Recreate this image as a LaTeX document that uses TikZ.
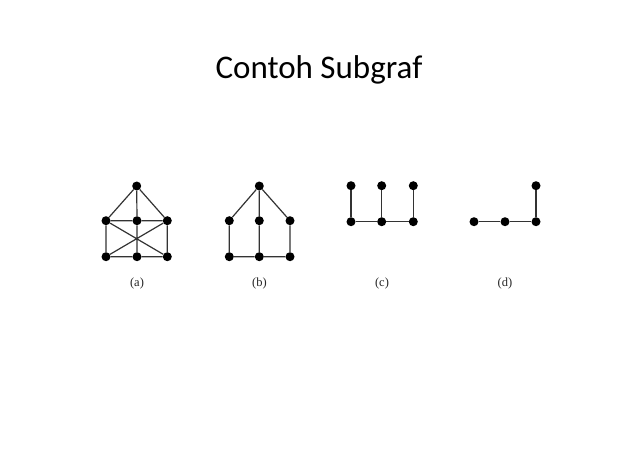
\documentclass[tikz,border=0pt]{standalone}
\usepackage{fontspec}
\setmainfont{Liberation Serif}
\newfontfamily\titlefont{Carlito}
\begin{document}
\begin{tikzpicture}[x=1pt,y=-1pt]
\tikzset{
  vtx/.style={circle,fill=black,inner sep=0pt,minimum size=9pt},
  edge/.style={line width=1.2pt,draw=black!80},
  lbl/.style={font=\fontsize{12.5}{14}\selectfont,text=black!85}
}
\useasboundingbox (0,0) rectangle (638,451);
\node[font=\titlefont\fontsize{33}{38}\selectfont] (title) at (319,70) {Contoh Subgraf};

% (a)
\node[vtx] (a1) at (136.7,186) {};
\node[vtx] (a2) at (106,220.7) {};
\node[vtx] (a3) at (137,220.7) {};
\node[vtx] (a4) at (167.3,220.7) {};
\node[vtx] (a5) at (106,256.7) {};
\node[vtx] (a6) at (137,256.7) {};
\node[vtx] (a7) at (167.3,256.7) {};
\draw[edge] (a1)--(a2) (a1)--(a3) (a1)--(a4) (a2)--(a3) (a3)--(a4)
  (a2)--(a5) (a3)--(a6) (a4)--(a7) (a5)--(a6) (a6)--(a7)
  (a2)--(a7) (a4)--(a5);
\node[lbl] (la) at (137,283) {(a)};

% (b)
\node[vtx] (b1) at (259.3,186) {};
\node[vtx] (b2) at (229.3,220.7) {};
\node[vtx] (b3) at (259.3,220.7) {};
\node[vtx] (b4) at (290,220.7) {};
\node[vtx] (b5) at (229.3,256.7) {};
\node[vtx] (b6) at (259.3,256.7) {};
\node[vtx] (b7) at (290,256.7) {};
\draw[edge] (b1)--(b2) (b1)--(b3) (b1)--(b4)
  (b2)--(b5) (b3)--(b6) (b4)--(b7) (b5)--(b6) (b6)--(b7);
\node[lbl] (lb) at (259.5,283) {(b)};

% (c)
\node[vtx] (c1) at (351,185.7) {};
\node[vtx] (c2) at (381.7,185.7) {};
\node[vtx] (c3) at (413.3,185.7) {};
\node[vtx] (c4) at (351,221.7) {};
\node[vtx] (c5) at (381.7,221.7) {};
\node[vtx] (c6) at (413.3,221.7) {};
\draw[edge] (c1)--(c4) (c2)--(c5) (c3)--(c6) (c4)--(c5) (c5)--(c6);
\node[lbl] (lc) at (382,283) {(c)};

% (d)
\node[vtx] (d1) at (536,185.7) {};
\node[vtx] (d2) at (474,221.7) {};
\node[vtx] (d3) at (505,221.7) {};
\node[vtx] (d4) at (536,221.7) {};
\draw[edge] (d2)--(d3) (d3)--(d4) (d4)--(d1);
\node[lbl] (ld) at (505,283) {(d)};
\end{tikzpicture}
\end{document}
